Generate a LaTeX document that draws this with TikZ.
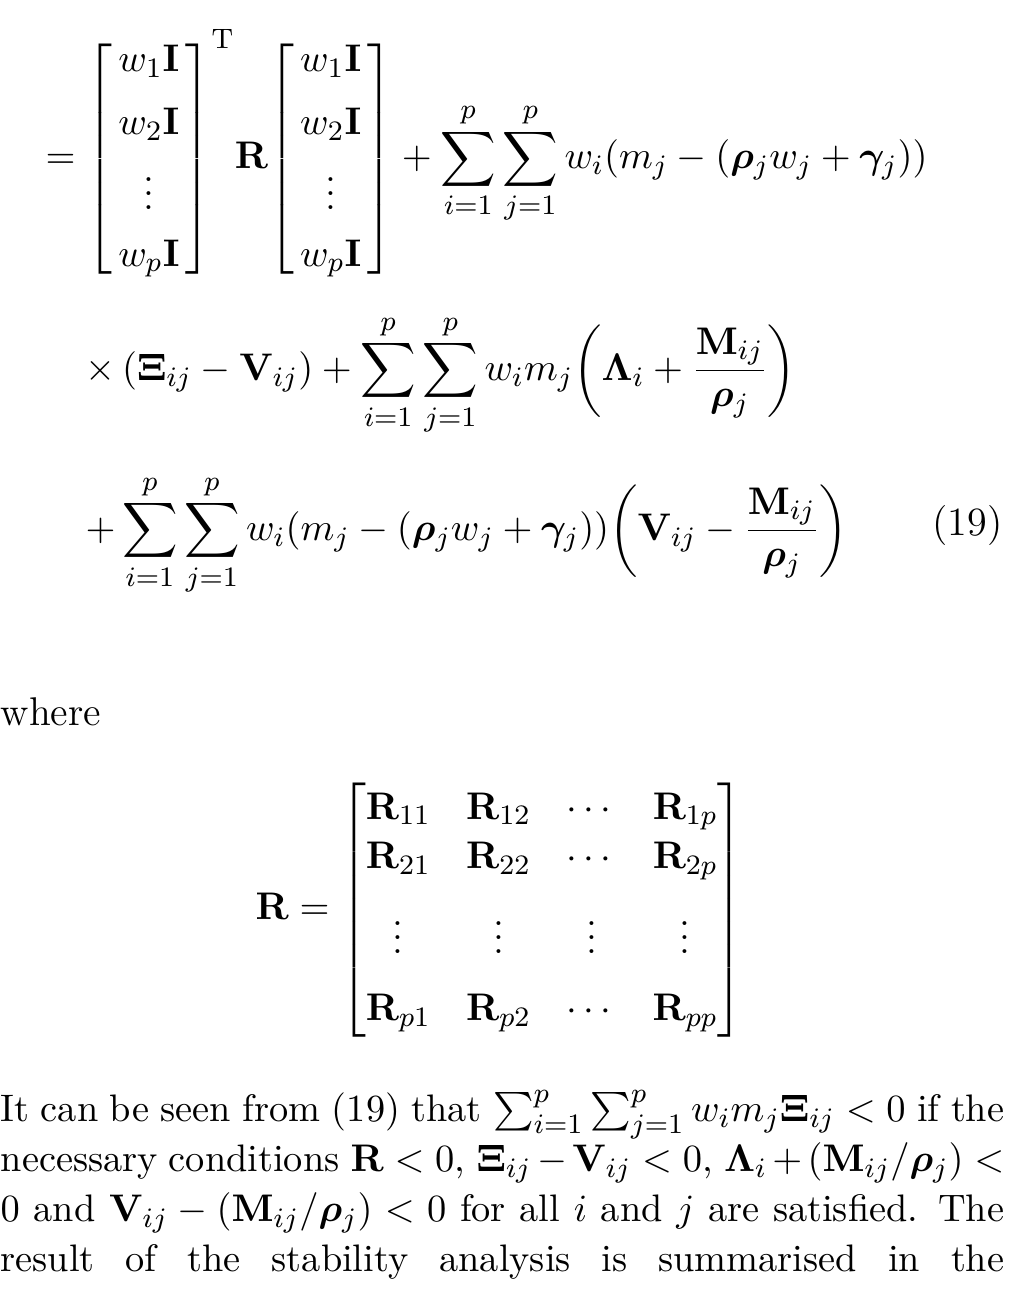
\documentclass[tikz,border=0pt]{standalone}
\usepackage{amsmath,bm}
\begin{document}
\begin{tikzpicture}[x=0.01cm,y=-0.01cm,
  eq/.style={inner sep=0pt,font=\fontsize{11.4}{14}\selectfont},
  txt/.style={inner sep=0pt,font=\fontsize{10.9}{14.2}\selectfont,align=justify,text width=10.03cm}]
\useasboundingbox (0,0) rectangle (1013,1294);
\node[eq,anchor=west] (l1) at (45,155) {$\displaystyle = \begin{bmatrix}\, w_1\mathbf I\,\\[4pt] w_2\mathbf I\\[2pt] \vdots\\[2pt] w_p\mathbf I\end{bmatrix}^{\mathrm T}\!\mathbf R\!\begin{bmatrix}\, w_1\mathbf I\,\\[4pt] w_2\mathbf I\\[2pt] \vdots\\[2pt] w_p\mathbf I\end{bmatrix} + \sum_{i=1}^{p}\sum_{j=1}^{p} w_i(m_j-(\bm\rho_j w_j+\bm\gamma_j))$};
\node[eq,anchor=west] (l2) at (85,375) {$\displaystyle \times\,(\bm\Xi_{ij}-\mathbf V_{ij})+\sum_{i=1}^{p}\sum_{j=1}^{p} w_i m_j\!\left(\bm\Lambda_i+\frac{\mathbf M_{ij}}{\bm\rho_j}\right)$};
\node[eq,anchor=west] (l3) at (85,535) {$\displaystyle +\sum_{i=1}^{p}\sum_{j=1}^{p} w_i(m_j-(\bm\rho_j w_j+\bm\gamma_j))\!\left(\mathbf V_{ij}-\frac{\mathbf M_{ij}}{\bm\rho_j}\right)$};
\node[eq,anchor=east] (n19) at (1003,525) {(19)};
\node[eq,anchor=west] (wh) at (0,712) {where};
\node[eq,anchor=west] (rm) at (255,910) {$\mathbf R=\begin{bmatrix}\mathbf R_{11}&\mathbf R_{12}&\cdots&\mathbf R_{1p}\\ \mathbf R_{21}&\mathbf R_{22}&\cdots&\mathbf R_{2p}\\[5pt] \vdots&\vdots&\vdots&\vdots\\[5pt] \mathbf R_{p1}&\mathbf R_{p2}&\cdots&\mathbf R_{pp}\end{bmatrix}$};
\node[txt,anchor=north west] (par) at (0,1090) {It can be seen from (19) that $\sum_{i=1}^{p}\sum_{j=1}^{p}w_i m_j\bm\Xi_{ij}<0$ if the\linebreak
necessary conditions $\mathbf R<0$, $\bm\Xi_{ij}-\mathbf V_{ij}<0$, $\bm\Lambda_i+(\mathbf M_{ij}/\bm\rho_j)<$\linebreak
$0$ and $\mathbf V_{ij}-(\mathbf M_{ij}/\bm\rho_j)<0$ for all $i$ and $j$ are satisfied. The\linebreak
result of the stability analysis is summarised in the\linebreak following};
\end{tikzpicture}
\end{document}
